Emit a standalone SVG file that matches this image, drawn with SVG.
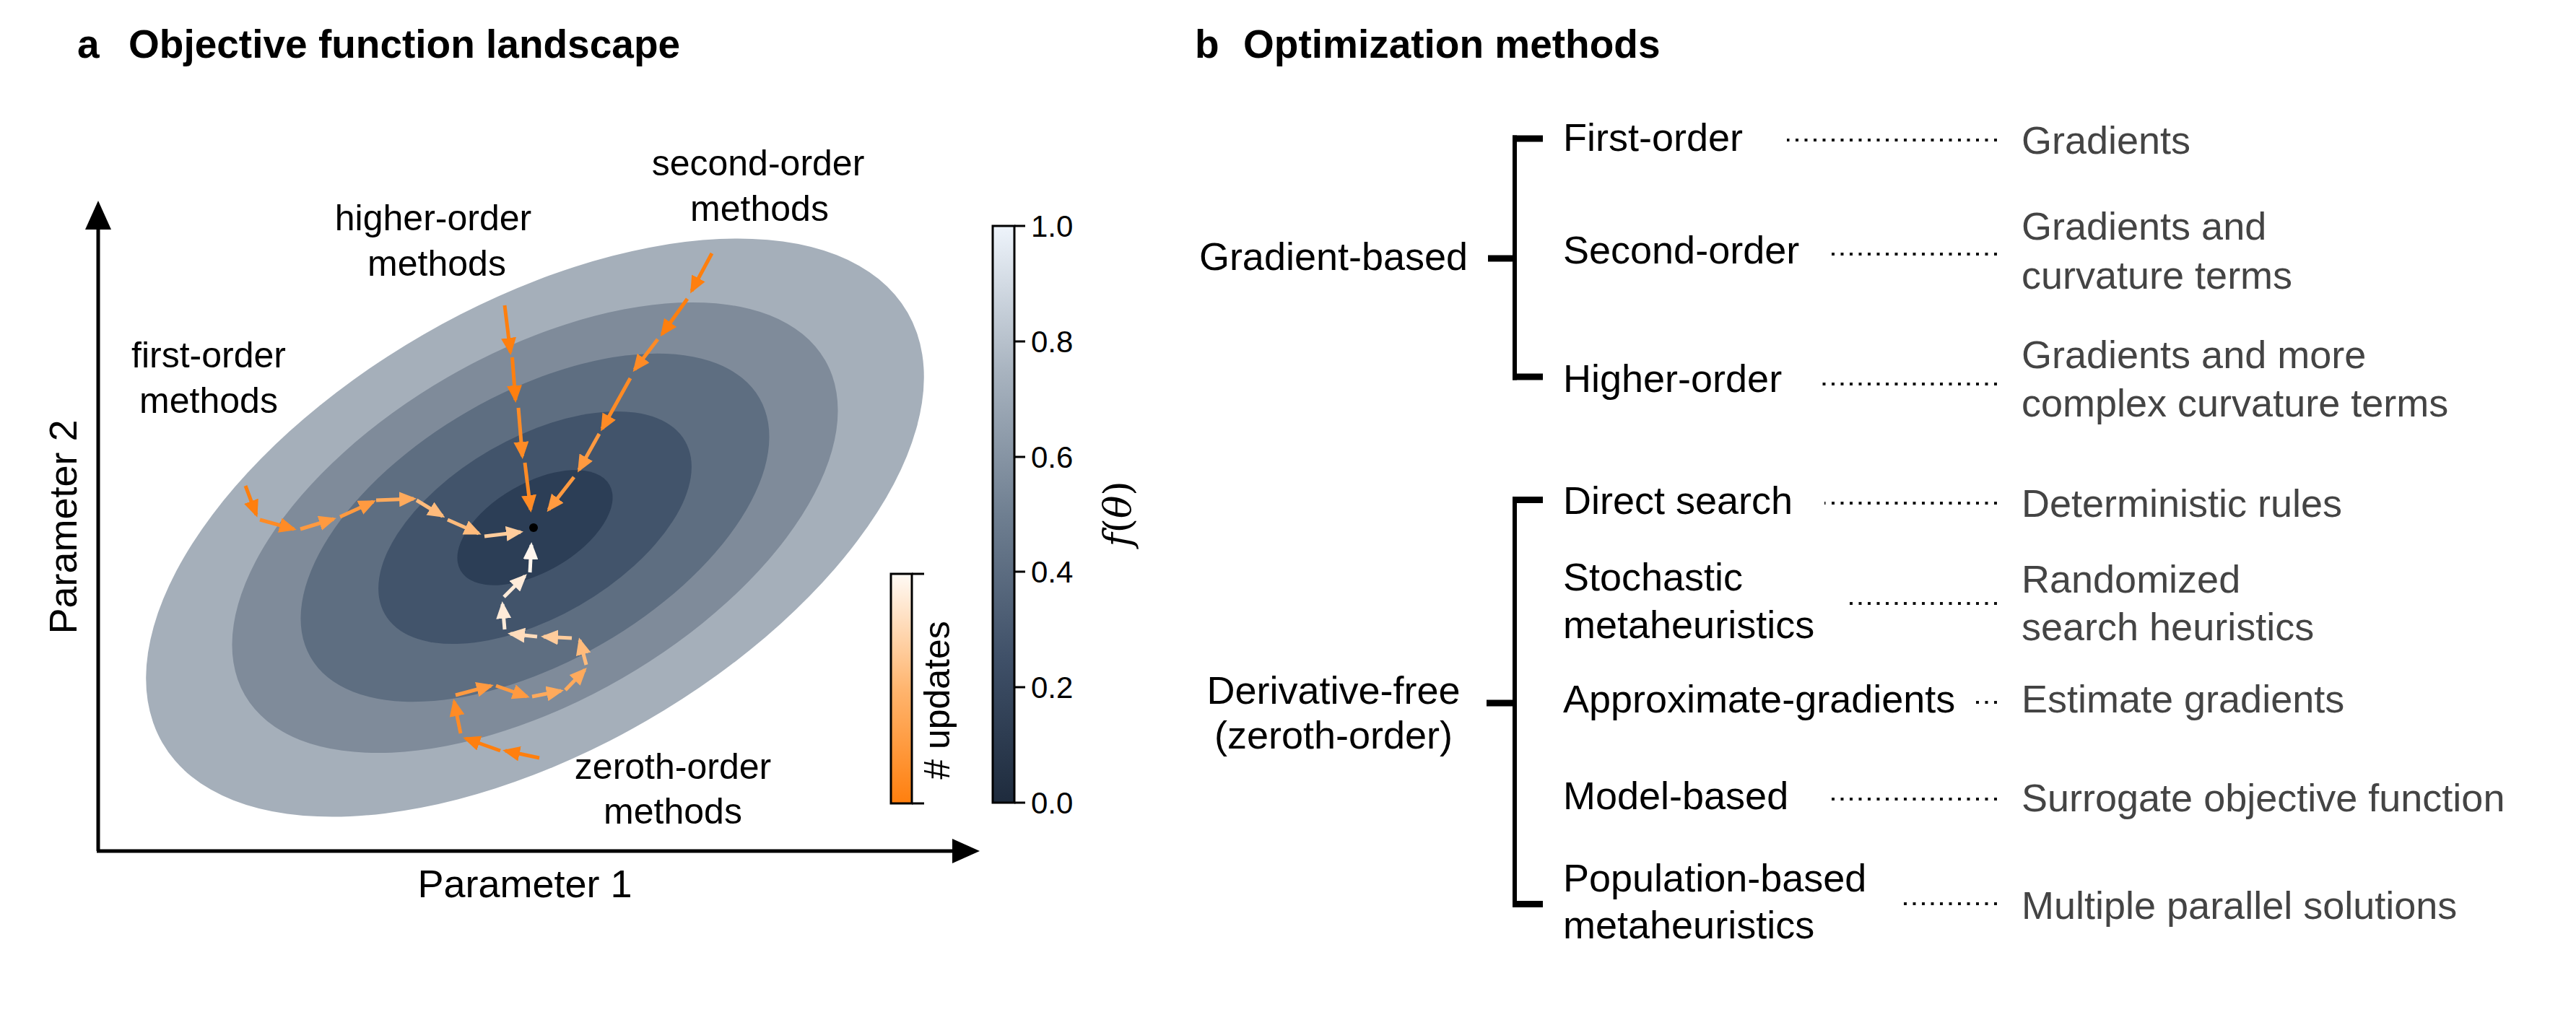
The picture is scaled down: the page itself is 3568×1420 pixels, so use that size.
<svg xmlns="http://www.w3.org/2000/svg" width="3568" height="1420" viewBox="0 0 3568 1420">
<style>
text{font-family:"Liberation Sans",Arial,Helvetica,sans-serif;fill:#000}
.title{font-size:55px;font-weight:bold}
.lbl{font-size:50px}
.ax{font-size:54px}
.tick{font-size:42px}
.bl{font-size:54px}
.desc{font-size:54px;fill:#444}
.axis{stroke:#000;stroke-width:5;fill:none}
.dots{stroke:#111;stroke-width:4;stroke-dasharray:4 8.5;fill:none}
.arr{stroke-width:5;fill:none}
</style>
<defs>
<linearGradient id="gf" x1="0" y1="1" x2="0" y2="0">
<stop offset="0" stop-color="#1e2b3d"/>
<stop offset="0.25" stop-color="#3f5068"/>
<stop offset="0.5" stop-color="#6f7f91"/>
<stop offset="0.75" stop-color="#a9b4c0"/>
<stop offset="1" stop-color="#eef4fb"/>
</linearGradient>
<linearGradient id="gu" x1="0" y1="1" x2="0" y2="0">
<stop offset="0" stop-color="#ff7f0e"/>
<stop offset="0.5" stop-color="#ffb56f"/>
<stop offset="1" stop-color="#fffaf5"/>
</linearGradient>
<marker id="m0" viewBox="0 0 24 21" refX="20" refY="10.5" markerWidth="24" markerHeight="21" markerUnits="userSpaceOnUse" orient="auto"><path d="M0,0L24,10.5L0,21z" fill="#ff7f0e"/></marker>
<marker id="m1" viewBox="0 0 24 21" refX="20" refY="10.5" markerWidth="24" markerHeight="21" markerUnits="userSpaceOnUse" orient="auto"><path d="M0,0L24,10.5L0,21z" fill="#ff8b25"/></marker>
<marker id="m2" viewBox="0 0 24 21" refX="20" refY="10.5" markerWidth="24" markerHeight="21" markerUnits="userSpaceOnUse" orient="auto"><path d="M0,0L24,10.5L0,21z" fill="#ff9a40"/></marker>
<marker id="m3" viewBox="0 0 24 21" refX="20" refY="10.5" markerWidth="24" markerHeight="21" markerUnits="userSpaceOnUse" orient="auto"><path d="M0,0L24,10.5L0,21z" fill="#ffaa5c"/></marker>
<marker id="m4" viewBox="0 0 24 21" refX="20" refY="10.5" markerWidth="24" markerHeight="21" markerUnits="userSpaceOnUse" orient="auto"><path d="M0,0L24,10.5L0,21z" fill="#ffbb7c"/></marker>
<marker id="m5" viewBox="0 0 24 21" refX="20" refY="10.5" markerWidth="24" markerHeight="21" markerUnits="userSpaceOnUse" orient="auto"><path d="M0,0L24,10.5L0,21z" fill="#ffcc9c"/></marker>
<marker id="m6" viewBox="0 0 24 21" refX="20" refY="10.5" markerWidth="24" markerHeight="21" markerUnits="userSpaceOnUse" orient="auto"><path d="M0,0L24,10.5L0,21z" fill="#ffdcbc"/></marker>
<marker id="m7" viewBox="0 0 24 21" refX="20" refY="10.5" markerWidth="24" markerHeight="21" markerUnits="userSpaceOnUse" orient="auto"><path d="M0,0L24,10.5L0,21z" fill="#ffebd9"/></marker>
<marker id="m8" viewBox="0 0 24 21" refX="20" refY="10.5" markerWidth="24" markerHeight="21" markerUnits="userSpaceOnUse" orient="auto"><path d="M0,0L24,10.5L0,21z" fill="#fff6ee"/></marker>
</defs>
<rect width="3568" height="1420" fill="#fff"/>

<g id="panel-a-title">
<text class="title" x="107" y="80">a</text>
<text class="title" x="178" y="80">Objective function landscape</text>
</g>

<g id="landscape" transform="translate(741,731) rotate(-30)">
<ellipse rx="596" ry="309" fill="#a5afba"/>
<ellipse rx="464" ry="241" fill="#7f8b9a"/>
<ellipse rx="359" ry="186" fill="#5e6e81"/>
<ellipse rx="240" ry="124" fill="#42546b"/>
<ellipse rx="119" ry="61.5" fill="#2c3e56"/>
</g>
<circle id="minimum" cx="739" cy="731" r="6" fill="#000"/>

<g id="axes">
<path class="axis" d="M136,1179V312M134,1179H1320"/>
<path d="M136,278L118,318H154z" fill="#000"/>
<path d="M1357,1179L1319,1162V1196z" fill="#000"/>
<text class="ax" x="727" y="1243" text-anchor="middle">Parameter 1</text>
<text class="ax" transform="translate(106,730) rotate(-90)" text-anchor="middle">Parameter 2</text>
</g>

<g id="method-labels">
<text class="lbl" x="1050" y="243" text-anchor="middle">second-order</text>
<text class="lbl" x="1052" y="306" text-anchor="middle">methods</text>
<text class="lbl" x="600" y="319" text-anchor="middle">higher-order</text>
<text class="lbl" x="605" y="382" text-anchor="middle">methods</text>
<text class="lbl" x="289" y="509" text-anchor="middle">first-order</text>
<text class="lbl" x="289" y="572" text-anchor="middle">methods</text>
<text class="lbl" x="932" y="1079" text-anchor="middle">zeroth-order</text>
<text class="lbl" x="932" y="1141" text-anchor="middle">methods</text>
</g>

<g id="connectors">
<g id="higher-order-path">
<line class="arr" x1="699" y1="423" x2="707" y2="488" stroke="#ff7f0e" marker-end="url(#m0)"/>
<line class="arr" x1="709.5" y1="495" x2="714" y2="554" stroke="#ff7f0e" marker-end="url(#m0)"/>
<line class="arr" x1="718" y1="565" x2="723.5" y2="632" stroke="#ff8b25" marker-end="url(#m1)"/>
<line class="arr" x1="727" y1="641" x2="735" y2="706" stroke="#ff8b25" marker-end="url(#m1)"/>
</g>
<g id="second-order-path">
<line class="arr" x1="986" y1="351" x2="958" y2="403" stroke="#ff7f0e" marker-end="url(#m0)"/>
<line class="arr" x1="952" y1="414" x2="917" y2="463" stroke="#ff7f0e" marker-end="url(#m0)"/>
<line class="arr" x1="911" y1="470" x2="879" y2="512" stroke="#ff8b25" marker-end="url(#m1)"/>
<line class="arr" x1="873" y1="524" x2="834" y2="594" stroke="#ff8b25" marker-end="url(#m1)"/>
<line class="arr" x1="830" y1="601" x2="802" y2="651" stroke="#ff9a40" marker-end="url(#m2)"/>
<line class="arr" x1="795" y1="661" x2="760" y2="706" stroke="#ff9a40" marker-end="url(#m2)"/>
</g>
<g id="first-order-path">
<line class="arr" x1="340" y1="673" x2="355" y2="713" stroke="#ff7f0e" marker-end="url(#m0)"/>
<line class="arr" x1="360" y1="720" x2="407" y2="733" stroke="#ff8b25" marker-end="url(#m1)"/>
<line class="arr" x1="416" y1="733" x2="462" y2="719" stroke="#ff9a40" marker-end="url(#m2)"/>
<line class="arr" x1="471" y1="716" x2="517" y2="695" stroke="#ff9a40" marker-end="url(#m2)"/>
<line class="arr" x1="521" y1="693" x2="573" y2="691" stroke="#ffaa5c" marker-end="url(#m3)"/>
<line class="arr" x1="577" y1="693" x2="613" y2="715" stroke="#ffbb7c" marker-end="url(#m4)"/>
<line class="arr" x1="620" y1="720" x2="663" y2="739" stroke="#ffbb7c" marker-end="url(#m4)"/>
<line class="arr" x1="671" y1="743" x2="721" y2="737" stroke="#ffcc9c" marker-end="url(#m5)"/>
</g>
<g id="zeroth-order-path">
<line class="arr" x1="747" y1="1050" x2="700" y2="1040" stroke="#ff7f0e" marker-end="url(#m0)"/>
<line class="arr" x1="693" y1="1040" x2="645" y2="1023" stroke="#ff7f0e" marker-end="url(#m0)"/>
<line class="arr" x1="638" y1="1016" x2="629" y2="972" stroke="#ff8b25" marker-end="url(#m1)"/>
<line class="arr" x1="631" y1="963" x2="680" y2="950" stroke="#ff9a40" marker-end="url(#m2)"/>
<line class="arr" x1="687" y1="950" x2="730" y2="965" stroke="#ff9a40" marker-end="url(#m2)"/>
<line class="arr" x1="737" y1="965" x2="777" y2="957" stroke="#ffaa5c" marker-end="url(#m3)"/>
<line class="arr" x1="783" y1="956" x2="810" y2="928" stroke="#ffaa5c" marker-end="url(#m3)"/>
<line class="arr" x1="812" y1="921" x2="803" y2="887" stroke="#ffbb7c" marker-end="url(#m4)"/>
<line class="arr" x1="792" y1="884" x2="753" y2="882" stroke="#ffcc9c" marker-end="url(#m5)"/>
<line class="arr" x1="744" y1="882" x2="707" y2="878" stroke="#ffdcbc" marker-end="url(#m6)"/>
<line class="arr" x1="699" y1="872" x2="696" y2="837" stroke="#ffebd9" marker-end="url(#m7)"/>
<line class="arr" x1="698" y1="827" x2="727" y2="798" stroke="#ffebd9" marker-end="url(#m7)"/>
<line class="arr" x1="734" y1="793" x2="736" y2="755" stroke="#fff6ee" marker-end="url(#m8)"/>
</g>
</g>

<g id="updates-colorbar">
<rect x="1234" y="795" width="29" height="318" fill="url(#gu)" stroke="#000" stroke-width="3"/>
<path d="M1263,795H1280M1263,1113H1280" stroke="#000" stroke-width="3"/>
<text class="lbl" transform="translate(1315,970) rotate(-90)" text-anchor="middle"># updates</text>
</g>

<g id="f-colorbar">
<rect x="1375" y="313" width="30" height="799" fill="url(#gf)" stroke="#000" stroke-width="3"/>
<path d="M1405,313H1420M1405,473H1420M1405,633H1420M1405,792H1420M1405,952H1420M1405,1112H1420" stroke="#000" stroke-width="3"/>
<text class="tick" x="1428" y="328">1.0</text>
<text class="tick" x="1428" y="488">0.8</text>
<text class="tick" x="1428" y="648">0.6</text>
<text class="tick" x="1428" y="807">0.4</text>
<text class="tick" x="1428" y="967">0.2</text>
<text class="tick" x="1428" y="1127">0.0</text>
<text transform="translate(1566,712) rotate(-90)" text-anchor="middle" style="font-family:'DejaVu Serif','Liberation Serif',serif;font-size:52px"><tspan font-style="italic">f</tspan>(<tspan font-style="italic">θ</tspan>)</text>
</g>

<g id="panel-b-title">
<text class="title" x="1655" y="80">b</text>
<text class="title" x="1722" y="80">Optimization methods</text>
</g>

<g id="gradient-based">
<text class="bl" x="1847" y="374" text-anchor="middle">Gradient-based</text>
<rect x="2095" y="187.5" width="6" height="339" fill="#000"/>
<rect x="2061" y="353.5" width="37" height="9" fill="#000"/>
<rect x="2095" y="187.5" width="42" height="9" fill="#000"/>
<rect x="2095" y="517.5" width="42" height="9" fill="#000"/>
</g>
<g id="first-order">
<text class="bl" x="2165" y="209">First-order</text>
<path class="dots" d="M2766,194H2475"/>
<text class="desc" x="2800" y="213">Gradients</text>
</g>
<g id="second-order">
<text class="bl" x="2165" y="365">Second-order</text>
<path class="dots" d="M2766,352H2531"/>
<text class="desc" x="2800" y="332">Gradients and</text>
<text class="desc" x="2800" y="400">curvature terms</text>
</g>
<g id="higher-order">
<text class="bl" x="2165" y="543">Higher-order</text>
<path class="dots" d="M2766,532H2520"/>
<text class="desc" x="2800" y="510">Gradients and more</text>
<text class="desc" x="2800" y="577">complex curvature terms</text>
</g>

<g id="derivative-free">
<text class="bl" x="1847" y="975" text-anchor="middle">Derivative-free</text>
<text class="bl" x="1847" y="1037" text-anchor="middle">(zeroth-order)</text>
<rect x="2095" y="688" width="6" height="569" fill="#000"/>
<rect x="2059" y="969.5" width="39" height="9" fill="#000"/>
<rect x="2095" y="688" width="42" height="9" fill="#000"/>
<rect x="2095" y="1248" width="42" height="9" fill="#000"/>
</g>
<g id="direct-search">
<text class="bl" x="2165" y="712">Direct search</text>
<path class="dots" d="M2766,697H2527"/>
<text class="desc" x="2800" y="716">Deterministic rules</text>
</g>
<g id="stochastic">
<text class="bl" x="2165" y="818">Stochastic</text>
<text class="bl" x="2165" y="884">metaheuristics</text>
<path class="dots" d="M2766,836H2556"/>
<text class="desc" x="2800" y="821">Randomized</text>
<text class="desc" x="2800" y="887">search heuristics</text>
</g>
<g id="approximate-gradients">
<text class="bl" x="2165" y="987">Approximate-gradients</text>
<path class="dots" d="M2766,973H2735"/>
<text class="desc" x="2800" y="987">Estimate gradients</text>
</g>
<g id="model-based">
<text class="bl" x="2165" y="1121">Model-based</text>
<path class="dots" d="M2766,1107H2531"/>
<text class="desc" x="2800" y="1124">Surrogate objective function</text>
</g>
<g id="population-based">
<text class="bl" x="2165" y="1235">Population-based</text>
<text class="bl" x="2165" y="1300">metaheuristics</text>
<path class="dots" d="M2766,1252H2631"/>
<text class="desc" x="2800" y="1273">Multiple parallel solutions</text>
</g>
</svg>
